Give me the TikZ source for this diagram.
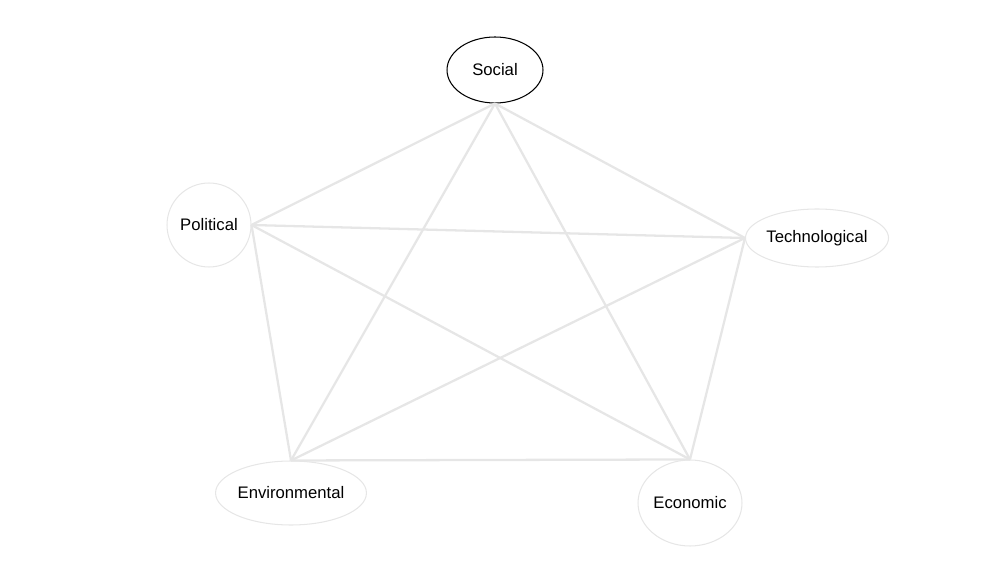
\documentclass[tikz,border=0pt]{standalone}
\usepackage{fontspec}
\setmainfont{Liberation Sans}
\usetikzlibrary{shapes.geometric}
\definecolor{edge}{HTML}{E6E6E6}
\begin{document}
\begin{tikzpicture}[x=0.02cm,y=-0.02cm,
  ell/.style={ellipse,draw=edge,line width=0.6pt,inner sep=0pt,font=\fontsize{9.5pt}{11pt}\selectfont},
  link/.style={draw=edge,line width=1.3pt}]
\useasboundingbox (0,0) rectangle (1000,563);
\node[ell,draw=black,minimum width=96\pgflinewidth*0+1.92cm,minimum height=1.32cm] (soc) at (495,70) {Social};
\node[ell,minimum width=1.68cm,minimum height=1.68cm] (pol) at (209,225) {Political};
\node[ell,minimum width=2.72cm,minimum height=1.16cm] (tec) at (817,238) {Technological};
\node[ell,minimum width=2.8cm,minimum height=1.28cm] (env) at (291,493) {Environmental};
\node[ell,minimum width=2.08cm,minimum height=1.72cm] (eco) at (690,503) {Economic};
\foreach \a/\b in {soc.south/pol.east, soc.south/tec.west, soc.south/env.north, soc.south/eco.north,
  pol.east/tec.west, pol.east/env.north, pol.east/eco.north,
  tec.west/env.north, tec.west/eco.north, env.north/eco.north}
  \draw[link] (\a) -- (\b);
\end{tikzpicture}
\end{document}
